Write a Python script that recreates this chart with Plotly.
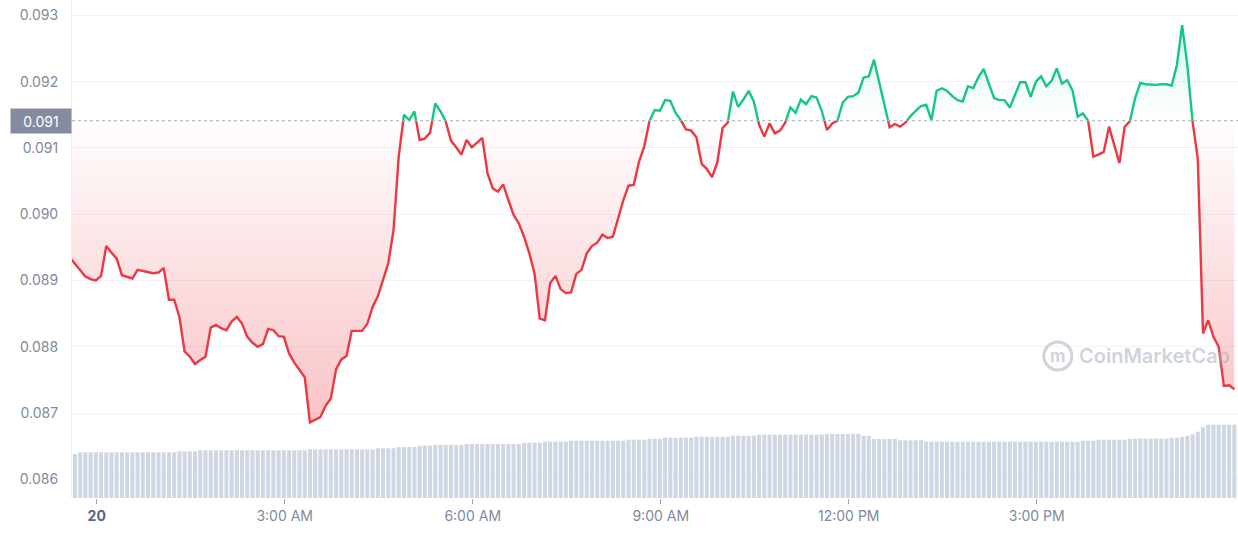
import plotly.graph_objects as go
import pandas as pd

# Prix toutes les 5 minutes
PRICE = [
    0.08935, 0.08925, 0.08916, 0.08906, 0.08902, 0.08900, 0.08907, 0.08952, 0.08942, 0.08933, 0.08908, 0.08905,
    0.08903, 0.08916, 0.08914, 0.08912, 0.08911, 0.08912, 0.08919, 0.08871, 0.08871, 0.08845, 0.08793, 0.08785,
    0.08774, 0.08780, 0.08785, 0.08829, 0.08833, 0.08828, 0.08825, 0.08838, 0.08845, 0.08835, 0.08815, 0.08806,
    0.08800, 0.08804, 0.08827, 0.08825, 0.08816, 0.08815, 0.08790, 0.08776, 0.08765, 0.08754, 0.08686, 0.08690,
    0.08694, 0.08711, 0.08722, 0.08766, 0.08781, 0.08786, 0.08824, 0.08824, 0.08824, 0.08835, 0.08860, 0.08876,
    0.08900, 0.08926, 0.08976, 0.09087, 0.09150, 0.09142, 0.09155, 0.09112, 0.09114, 0.09123, 0.09167, 0.09155,
    0.09140, 0.09111, 0.09101, 0.09090, 0.09112, 0.09101, 0.09108, 0.09115, 0.09062, 0.09039, 0.09034, 0.09045,
    0.09021, 0.08999, 0.08986, 0.08966, 0.08941, 0.08911, 0.08843, 0.08840, 0.08896, 0.08907, 0.08887, 0.08881,
    0.08882, 0.08910, 0.08916, 0.08941, 0.08952, 0.08957, 0.08969, 0.08964, 0.08966, 0.08994, 0.09021, 0.09043,
    0.09044, 0.09079, 0.09102, 0.09140, 0.09157, 0.09156, 0.09172, 0.09171, 0.09153, 0.09142, 0.09128, 0.09126,
    0.09116, 0.09076, 0.09068, 0.09056, 0.09078, 0.09130, 0.09138, 0.09185, 0.09162, 0.09173, 0.09186, 0.09170,
    0.09135, 0.09117, 0.09137, 0.09122, 0.09126, 0.09138, 0.09161, 0.09153, 0.09173, 0.09166, 0.09178, 0.09176,
    0.09156, 0.09127, 0.09137, 0.09141, 0.09168, 0.09177, 0.09178, 0.09183, 0.09206, 0.09208, 0.09233, 0.09198,
    0.09164, 0.09131, 0.09136, 0.09132, 0.09138, 0.09148, 0.09156, 0.09163, 0.09165, 0.09142, 0.09186, 0.09190,
    0.09186, 0.09178, 0.09172, 0.09170, 0.09193, 0.09190, 0.09207, 0.09219, 0.09197, 0.09175, 0.09172, 0.09172,
    0.09161, 0.09181, 0.09199, 0.09199, 0.09177, 0.09200, 0.09208, 0.09193, 0.09201, 0.09220, 0.09197, 0.09202,
    0.09187, 0.09147, 0.09152, 0.09141, 0.09087, 0.09090, 0.09094, 0.09132, 0.09104, 0.09077, 0.09132, 0.09140,
    0.09175, 0.09198, 0.09196, 0.09195, 0.09195, 0.09196, 0.09196, 0.09194, 0.09225, 0.09285, 0.09225, 0.09140,
    0.09084, 0.08820, 0.08840, 0.08815, 0.08800, 0.08741, 0.08742, 0.08736,
]

# Volume (M USD) : niveaux et nombre de barres consecutives
VOLUME_LEVELS = [15.4, 16.0, 16.35, 16.7, 17.05, 17.4, 17.85, 18.3, 18.6, 18.9, 19.35, 19.7,
                 20.05, 20.4, 20.75, 21.1, 21.45, 21.8, 22.15, 22.45, 21.8, 20.65, 20.2, 19.7,
                 20.05, 20.4, 20.75, 21.1, 21.45, 21.8, 22.3, 23.2, 24.75, 25.65]
VOLUME_RUNS = [2, 19, 4, 21, 13, 4, 4, 3, 6, 11, 4, 5,
               11, 4, 3, 6, 7, 5, 13, 7, 2, 5, 5, 30,
               3, 6, 8, 2, 1, 1, 1, 1, 1, 6]

REF_PRICE = 0.09141  # prix d'ouverture (ligne pointillee)
START = "2022-05-19 23:34:10"

Y_TICKS = [0.086, 0.087, 0.088, 0.089, 0.090, 0.091, 0.092, 0.093]
X_TICKS = ["2022-05-20 00:00", "2022-05-20 03:00", "2022-05-20 06:00",
           "2022-05-20 09:00", "2022-05-20 12:00", "2022-05-20 15:00"]
X_LABELS = ["<span style='color:#58667e'><b>20</b></span>", "3:00 AM", "6:00 AM",
            "9:00 AM", "12:00 PM", "3:00 PM"]

GREEN = "#16c784"
RED = "#ea3943"
GREY = "#808a9d"
MARK = "rgba(160,168,185,0.5)"

volume = []
for level, n in zip(VOLUME_LEVELS, VOLUME_RUNS):
    volume += [level] * n

times = pd.date_range(START, periods=len(PRICE), freq="5min")

Y_MIN, Y_MAX = 0.085719, 0.093231
VOL_MAX = 174.3
split = (REF_PRICE - Y_MIN) / (Y_MAX - Y_MIN)

fig = go.Figure()

# barres de volume
fig.add_trace(go.Bar(x=times, y=volume, yaxis="y2", marker=dict(color="#cfd6e4", line_width=0),
                     hoverinfo="skip", showlegend=False))

# partie au-dessus du prix de reference (verte)
fig.add_trace(go.Scatter(
    x=times, y=PRICE, yaxis="y3", mode="lines",
    line=dict(color=GREEN, width=2.4), fill="tozeroy",
    fillgradient=dict(type="vertical", start=REF_PRICE, stop=max(PRICE),
                      colorscale=[[0, "rgba(22,199,132,0)"], [1, "rgba(22,199,132,0.17)"]]),
    showlegend=False))

# partie en dessous (rouge)
fig.add_trace(go.Scatter(x=times, y=[REF_PRICE] * len(PRICE), yaxis="y4", mode="lines",
                         line=dict(width=0), hoverinfo="skip", showlegend=False))
fig.add_trace(go.Scatter(
    x=times, y=PRICE, yaxis="y4", mode="lines",
    line=dict(color=RED, width=2.4), fill="tonexty",
    fillgradient=dict(type="vertical", start=min(PRICE), stop=REF_PRICE,
                      colorscale=[[0, "rgba(234,57,67,0.30)"], [1, "rgba(234,57,67,0.01)"]]),
    showlegend=False))

fig.add_shape(type="line", xref="paper", x0=0, x1=1, yref="y", y0=REF_PRICE, y1=REF_PRICE,
              line=dict(color="#a7b0c0", width=1, dash="dot"))

fig.add_annotation(xref="paper", x=0, xanchor="right", yref="y", y=REF_PRICE,
                   text=f"{REF_PRICE:.3f}", showarrow=False, bgcolor="#858ca0",
                   font=dict(color="white", size=14), width=52, height=16, borderpad=4)

# filigrane
fig.add_shape(type="circle", xref="paper", yref="paper", xsizemode="pixel", ysizemode="pixel",
              xanchor=0.8455, yanchor=0.2851, x0=-14, x1=14, y0=-14, y1=14,
              line=dict(color=MARK, width=3))
fig.add_annotation(xref="paper", yref="paper", x=0.8455, y=0.2851, xanchor="center", yanchor="middle",
                   text="<b>m</b>", showarrow=False, font=dict(size=17, color=MARK))
fig.add_annotation(xref="paper", yref="paper", x=0.9288, y=0.2851, xanchor="center", yanchor="middle",
                   text="CoinMarketCap", showarrow=False,
                   font=dict(size=20, color=MARK, family="Inter", weight=600))

fig.update_layout(
    width=1238, height=533,
    margin=dict(l=72, r=0, t=0, b=35),
    paper_bgcolor="white", plot_bgcolor="rgba(0,0,0,0)",
    font=dict(family="Inter, Noto Sans, sans-serif", size=14, color=GREY),
    bargap=0.22,
    xaxis=dict(type="date", range=["2022-05-19 23:36:21", "2022-05-20 18:12:40"],
               tickvals=X_TICKS, ticktext=X_LABELS, showgrid=False, zeroline=False,
               ticks="outside", ticklen=5, tickcolor="#9aa3b2", showline=False),
    yaxis=dict(range=[Y_MIN, Y_MAX], tickvals=Y_TICKS, ticktext=[f"{v:.3f}" for v in Y_TICKS],
               gridcolor="#f1f3f6", zeroline=False, showline=True, linecolor="#eceff3",
               ticks="outside", ticklen=10, tickcolor="rgba(0,0,0,0)"),
    yaxis2=dict(overlaying="y", range=[0, VOL_MAX], visible=False),
    yaxis3=dict(domain=[split, 1], range=[REF_PRICE, Y_MAX], anchor="x", visible=False),
    yaxis4=dict(domain=[0, split], range=[Y_MIN, REF_PRICE], anchor="x", visible=False),
)

fig.write_html("out.html", config={"displayModeBar": False},
               post_script="document.body.style.margin='0';")
